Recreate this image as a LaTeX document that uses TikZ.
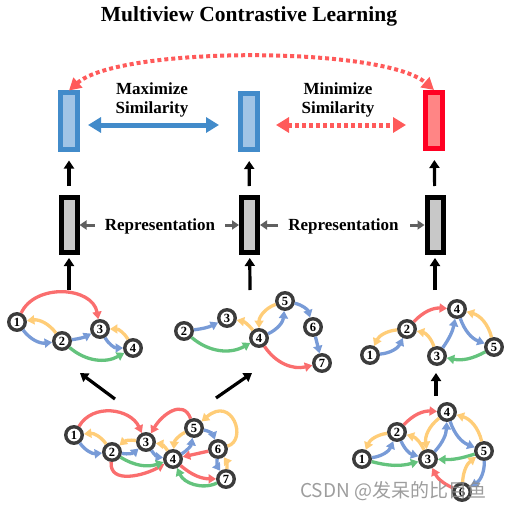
\documentclass[tikz,border=0pt]{standalone}
\usepackage{fontspec}
\setmainfont{Liberation Serif}
\newfontfamily\cjkfont{Noto Sans CJK SC}
\usetikzlibrary{arrows.meta}
\definecolor{redE}{HTML}{FA6E6E}
\definecolor{blueE}{HTML}{789BD7}
\definecolor{yelE}{HTML}{FFCD78}
\definecolor{greenE}{HTML}{64C37D}
\definecolor{ring}{HTML}{3C3C3C}
\definecolor{headblue}{HTML}{428BCA}
\definecolor{headbluefill}{HTML}{A0C4E6}
\definecolor{headred}{HTML}{FF0022}
\definecolor{headredfill}{HTML}{FF8585}
\definecolor{repfill}{HTML}{C8C8C8}
\definecolor{arcred}{HTML}{FF5A5A}
\definecolor{grayarrow}{HTML}{606060}
\tikzset{
  vnode/.style={circle, draw=ring, line width=3.4pt, fill=white, minimum size=16.5pt, inner sep=0pt, font=\bfseries\fontsize{12.5}{12.5}\selectfont},
  edge/.style={line width=3.3pt, -{Triangle[length=7.5pt,width=9pt]}},
  rede/.style={edge, redE},
  bluee/.style={edge, blueE},
  yele/.style={edge, yelE},
  greene/.style={edge, greenE},
  headbox/.style={rectangle, line width=5pt, minimum width=17pt, minimum height=56pt, inner sep=0pt},
  repbox/.style={rectangle, draw=black, fill=repfill, line width=5pt, minimum width=16pt, minimum height=55pt, inner sep=0pt},
  bigarrow/.style={line width=3.2pt, -{Triangle[length=8pt,width=10pt]}},
  grayarr/.style={grayarrow, line width=3pt, -{Triangle[length=7pt,width=9pt]}},
  lbl/.style={font=\bfseries\fontsize{17}{18.5}\selectfont, align=center, inner sep=0pt},
}
\begin{document}
\begin{tikzpicture}[x=1pt,y=1pt]
\useasboundingbox (0,0) rectangle (513,-508);
% title
\node[font=\bfseries\fontsize{21.5}{22}\selectfont] (title) at (249,-16) {Multiview Contrastive Learning};
% heads
\node[headbox, draw=headblue, fill=headbluefill] (h1) at (69,-121) {};
\node[headbox, draw=headblue, fill=headbluefill] (h2) at (249,-121.5) {};
\node[headbox, draw=headred, fill=headredfill] (h3) at (434,-120.5) {};
% reps
\node[repbox] (r1) at (69,-225) {};
\node[repbox] (r2) at (249.5,-225) {};
\node[repbox] (r3) at (435,-225) {};
% labels
\node[lbl] (max) at (152,-100) {Maximize\\Similarity};
\node[lbl] (min) at (338,-100) {Minimize\\Similarity};
\node[lbl] (rep1) at (160,-226) {Representation};
\node[lbl] (rep2) at (343.5,-226) {Representation};
% similarity arrows
\coordinate (ma) at (88,-125); \coordinate (mb) at (219,-125);
\draw[headblue, line width=5pt, {Triangle[length=13pt,width=15pt]}-{Triangle[length=13pt,width=15pt]}] (ma) -- (mb);
\coordinate (na) at (276,-125); \coordinate (nb) at (406,-125);
\draw[arcred, line width=5pt, dash pattern=on 4pt off 3pt, {Triangle[length=13pt,width=15pt]}-{Triangle[length=13pt,width=15pt]}] (na) -- (nb);
\draw[arcred, line width=4pt, dash pattern=on 4pt off 3pt, {Triangle[length=12pt,width=13pt]}-{Triangle[length=12pt,width=13pt]}] (h1.north) .. controls (119,-46) and (383,-46) .. (h3.north);
% head arrows
\draw[bigarrow, shorten <=9pt, shorten >=9pt] (r1) -- (h1);
\draw[bigarrow, shorten <=9pt, shorten >=9pt] (r2) -- (h2);
\draw[bigarrow, shorten <=9pt, shorten >=9pt] (r3) -- (h3);
% gray arrows
\coordinate (ga1) at (95,-225); \coordinate (ga2) at (225,-225);
\coordinate (ga3) at (278,-225); \coordinate (ga4) at (410,-225);
\draw[grayarr] (ga1) -- (r1);
\draw[grayarr] (ga2) -- (r2);
\draw[grayarr] (ga3) -- (r2);
\draw[grayarr] (ga4) -- (r3);
% encoder input arrows
\coordinate (u1) at (69,-290); \coordinate (u2) at (250,-290); \coordinate (u3) at (435,-290);
\draw[bigarrow, shorten >=3pt] (u1) -- (r1);
\draw[bigarrow, shorten >=3pt] (u2) -- (r2);
\draw[bigarrow, shorten >=3pt] (u3) -- (r3);
% augmentation arrows
\coordinate (s1) at (115,-399); \coordinate (t1) at (80,-373);
\coordinate (s2) at (216,-398); \coordinate (t2) at (252,-373);
\coordinate (s3) at (436,-396); \coordinate (t3) at (436,-373);
\draw[bigarrow] (s1) -- (t1);
\draw[bigarrow] (s2) -- (t2);
\draw[bigarrow] (s3) -- (t3);

% ---- graph L1
\node[vnode] (a1) at (17,-322) {1};
\node[vnode] (a2) at (62,-341) {2};
\node[vnode] (a3) at (100,-329) {3};
\node[vnode] (a4) at (133,-348) {4};
\draw[rede] (a1) to[out=65,in=100,looseness=1.1] (a3);
\draw[bluee] (a1) to[bend right=30] (a2);
\draw[yele] (a2) to[bend right=30] (a1);
\draw[bluee] (a2) to[bend right=10] (a3);
\draw[bluee] (a3) to[bend right=30] (a4);
\draw[yele] (a4) to[bend right=30] (a3);
\draw[greene] (a2) to[bend right=35] (a4);

% ---- graph M1
\node[vnode] (b2) at (184,-331) {2};
\node[vnode] (b3) at (227,-318) {3};
\node[vnode] (b4) at (259,-338) {4};
\node[vnode] (b5) at (285,-301) {5};
\node[vnode] (b6) at (313,-327) {6};
\node[vnode] (b7) at (322,-363) {7};
\draw[bluee] (b2) to[bend right=10] (b3);
\draw[greene] (b2) to[bend right=35] (b4);
\draw[yele] (b4) to[bend right=20] (b3);
\draw[bluee] (b4) to[bend right=30] (b5);
\draw[yele] (b5) to[bend right=35] (b4);
\draw[bluee] (b5) to[bend left=30] (b6);
\draw[bluee] (b6) to (b7);
\draw[rede] (b4) to[bend right=35] (b7);

% ---- graph R1
\node[vnode] (c1) at (370,-355) {1};
\node[vnode] (c2) at (407,-329) {2};
\node[vnode] (c3) at (437,-356) {3};
\node[vnode] (c4) at (457,-309) {4};
\node[vnode] (c5) at (494,-347) {5};
\draw[bluee] (c1) to[bend right=30] (c2);
\draw[yele] (c2) to[bend right=30] (c1);
\draw[rede] (c2) to[bend left=25] (c4);
\draw[yele] (c3) to[bend right=30] (c2);
\draw[bluee] (c3) to[bend right=12] (c4);
\draw[bluee] (c4) to[bend right=25] (c5);
\draw[yele] (c5) to[bend right=30] (c4);
\draw[greene] (c5) to[bend left=20] (c3);

% ---- graph BL
\node[vnode] (d1) at (74,-435) {1};
\node[vnode] (d2) at (112,-452) {2};
\node[vnode] (d3) at (146,-442) {3};
\node[vnode] (d4) at (173,-459) {4};
\node[vnode] (d5) at (194,-428) {5};
\node[vnode] (d6) at (218,-449) {6};
\node[vnode] (d7) at (226,-479) {7};
\draw[rede] (d1) to[out=60,in=115,looseness=1.1] (d3);
\draw[bluee] (d1) to[bend right=30] (d2);
\draw[yele] (d2) to[bend right=30] (d1);
\draw[bluee] (d2) to[bend right=25] (d3);
\draw[yele] (d3) to[bend right=25] (d2);
\draw[bluee] (d3) to[bend right=25] (d4);
\draw[yele] (d4) to[bend right=25] (d3);
\draw[rede] (d5) to[out=110,in=60,looseness=1.3] (d3);
\draw[rede] (d2) to[out=-95,in=-150,looseness=1.1] (d4);
\draw[greene] (d2) to[bend right=25] (d4);
\draw[bluee] (d4) to[bend right=25] (d5);
\draw[yele] (d5) to[bend right=30] (d4);
\draw[rede] (d6) to (d4);
\draw[bluee] (d5) to[bend left=30] (d6);
\draw[bluee] (d6) to[bend right=20] (d7);
\draw[yele] (d7) to[bend right=20] (d6);
\draw[yele] (d6) .. controls (248,-440) and (232,-395) .. (d5);
\draw[rede] (d4) to[bend right=20] (d7);
\draw[greene] (d7) to[bend left=45] (d4);

% ---- graph BR
\node[vnode] (e1) at (362,-459) {1};
\node[vnode] (e2) at (397,-432) {2};
\node[vnode] (e3) at (428,-459) {3};
\node[vnode] (e4) at (447,-412) {4};
\node[vnode] (e5) at (484,-451) {5};
\node[vnode] (e6) at (462,-492) {6};
\draw[bluee] (e1) to[bend right=30] (e2);
\draw[yele] (e2) to[bend right=30] (e1);
\draw[rede] (e2) to[bend left=25] (e4);
\draw[bluee] (e2) to[bend right=25] (e3);
\draw[yele] (e3) to[bend right=25] (e2);
\draw[bluee] (e3) to[bend right=20] (e4);
\draw[yele] (e4) to[bend right=30] (e3);
\draw[bluee] (e4) to[bend right=25] (e5);
\draw[yele] (e5) to[bend right=30] (e4);
\draw[greene] (e5) to[bend left=10] (e3);
\draw[greene] (e1) to[bend right=15] (e3);
\draw[rede] (e6) to[bend left=20] (e3);
\draw[yele] (e6) to[bend left=25] (e5);
\draw[bluee] (e5) to[bend left=30] (e6);

% watermark
\node[anchor=base west, inner sep=0pt, text=black!45, opacity=0.85, font=\cjkfont\fontsize{19}{19}\selectfont] (wm) at (300,-497) {CSDN @发呆的比目鱼};
\end{tikzpicture}
\end{document}
